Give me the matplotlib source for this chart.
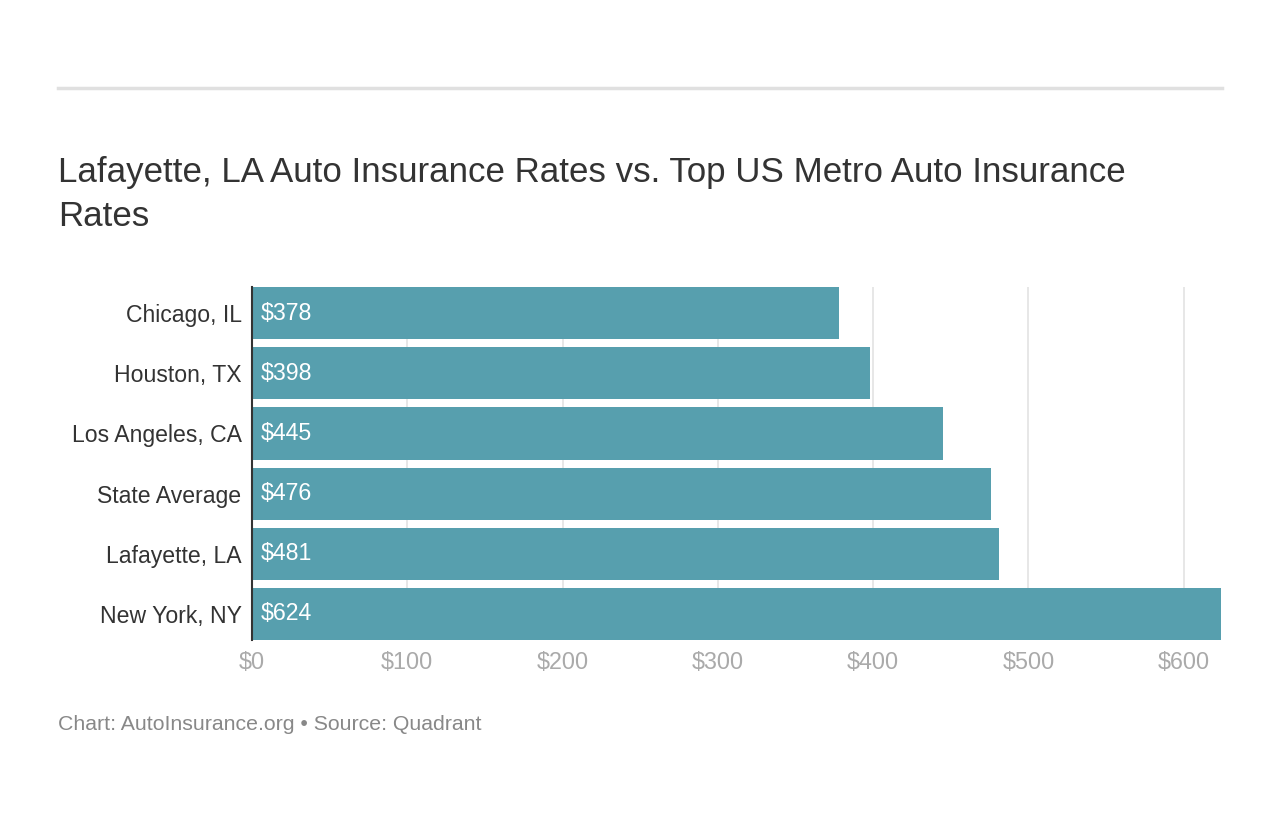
import matplotlib
matplotlib.use('Agg')
from matplotlib import pyplot as plt
from matplotlib.lines import Line2D

plt.rcParams['font.family'] = ['Liberation Sans', 'DejaVu Sans']

cities = ['Chicago, IL', 'Houston, TX', 'Los Angeles, CA', 'State Average', 'Lafayette, LA', 'New York, NY']
rates = [378, 398, 445, 476, 481, 624]
ticks = [0, 100, 200, 300, 400, 500, 600]

bar_color = '#579fae'

fig = plt.figure(figsize=(12.8, 8.3), dpi=100)
ax = fig.add_axes([0.1969, 0.2289, 0.7570, 0.4253])

pos = list(range(len(cities)))
ax.barh(pos, rates, height=0.867, color=bar_color, zorder=2)
for p, v in zip(pos, rates):
    ax.text(5.5, p, '$' + str(v), color='white', fontsize=16.7, va='center', ha='left', zorder=3)

ax.set_ylim(5.4335, -0.4335)
ax.set_xlim(0, 624)
ax.set_yticks(pos)
ax.set_yticklabels(cities, fontsize=16.6, color='#333333')
ax.set_xticks(ticks)
ax.set_xticklabels(['$' + str(t) for t in ticks], fontsize=16.8, color='#aaaaaa')
ax.tick_params(axis='both', length=0)
ax.tick_params(axis='y', pad=7.5)
ax.tick_params(axis='x', pad=8)
ax.grid(axis='x', color='#e3e3e3', linewidth=1.2, zorder=0)
ax.set_axisbelow(True)
for s in ['top', 'right', 'bottom']:
    ax.spines[s].set_visible(False)
ax.spines['left'].set_color('#333333')
ax.spines['left'].set_linewidth(1.5)
ax.spines['left'].set_zorder(4)

fig.add_artist(Line2D([58 / 1280, 1222 / 1280], [1 - 88 / 830, 1 - 88 / 830],
                      color='#e0e0e0', linewidth=2.5, transform=fig.transFigure))

fig.text(58 / 1280, 1 - 194.5 / 830, 'Lafayette, LA Auto Insurance Rates vs. Top US Metro Auto Insurance\nRates',
         fontsize=25.1, color='#333333', va='center', ha='left', linespacing=1.39)
fig.text(58 / 1280, 1 - 724 / 830, 'Chart: AutoInsurance.org \u2022 Source: Quadrant',
         fontsize=15.3, color='#888888', va='center', ha='left')

fig.savefig('out.png', dpi=100)
